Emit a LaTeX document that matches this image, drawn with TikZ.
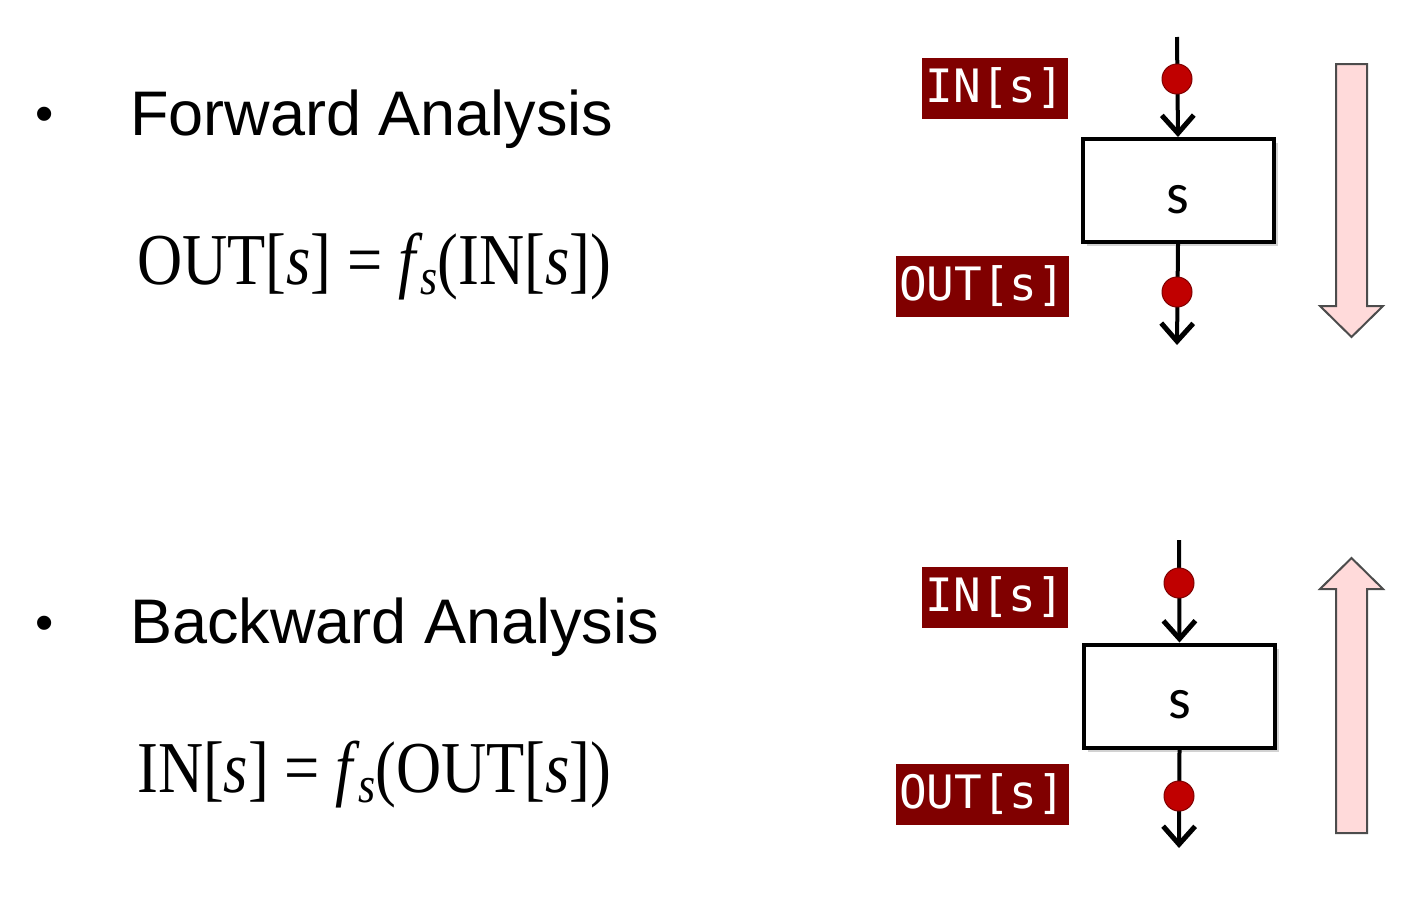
\documentclass[tikz,border=0pt]{standalone}
\usepackage{graphicx}
\usepackage{fontspec}
\setmainfont{Liberation Serif}
\newfontfamily\slidefont{Liberation Sans}
\newfontfamily\tagfont{DejaVu Sans Mono}
\newfontfamily\stmtfont{Carlito}
\usetikzlibrary{arrows.meta}
\usetikzlibrary{shadows}
\definecolor{tagred}{HTML}{800000}
\definecolor{dotred}{HTML}{C00000}
\definecolor{pinkfill}{HTML}{FFDADA}
\newcommand{\eqn}[1]{\scalebox{1}[1.17]{\fontsize{62.5}{70}\selectfont #1}}
\newcommand{\vs}{\textit{s}}
\newcommand{\fs}{\textit{f}\kern-2pt\raisebox{-9pt}{\fontsize{44}{44}\selectfont\textit{s}}}

\begin{document}
\begin{tikzpicture}[x=1pt,y=-1pt,
    heading/.style={font=\slidefont\fontsize{63}{70}\selectfont, anchor=base west, inner sep=0},
    bullet/.style={font=\slidefont\fontsize{52}{60}\selectfont, anchor=base, inner sep=0},
    formula/.style={anchor=base west, inner sep=0},
    tag/.style={fill=tagred, text=white, font=\tagfont\fontsize{46}{50}\selectfont,
      inner xsep=3.5pt, inner ysep=0, minimum height=61pt, anchor=east},
    stmt/.style={draw, line width=4pt, fill=white, minimum width=191pt, minimum height=103pt,
      font=\stmtfont\fontsize{58}{60}\selectfont, text height=45pt, text depth=0pt,
      drop shadow={shadow xshift=4pt, shadow yshift=-4pt, fill=black!50, opacity=0.35}},
    dot/.style={circle, fill=dotred, draw=tagred, line width=1pt, minimum size=30pt, inner sep=0},
    flow/.style={line width=4pt, -{Straight Barb[length=18pt,width=32pt,line width=5pt]}},
    bigarrow/.style={fill=pinkfill, draw=black!70, line width=2pt, line join=miter}]
          \fill[white] (0,0) rectangle (1407,903);
          \useasboundingbox (0,0) rectangle (1407,903);

          % forward
          \node[bullet] (fbul) at (45,131) {\textbullet};
          \node[heading] (fwd) at (130,135) {Forward Analysis};
          \node[formula] (feq) at (137,284) {\eqn{OUT[\vs] = \fs(IN[\vs])}};

          \node[tag] (fin) at (1068,88) {IN[s]};
          \node[tag] (fout) at (1069,286) {OUT[s]};
          \node[stmt] (fs) at (1178,190.5) {s};
          \coordinate (ftop) at (1177,37);
          \coordinate (fbot) at (1177,345);
          \draw[flow] (ftop) -- (fs.north);
          \draw[flow] (fs.south) -- (fbot);
          \node[dot] (findot) at (1177,79) {};
          \node[dot] (foutdot) at (1177,292) {};
          \draw[bigarrow] (1336,64) -- (1367,64) -- (1367,306) -- (1383,306)
            -- (1351.5,337) -- (1320,306) -- (1336,306) -- cycle;

          % backward
          \node[bullet] (bbul) at (45,640) {\textbullet};
          \node[heading] (bwd) at (130,643) {Backward Analysis};
          \node[formula] (beq) at (137,792) {\eqn{IN[\vs] = \fs(OUT[\vs])}};

          \node[tag] (bin) at (1068,597.5) {IN[s]};
          \node[tag] (bout) at (1069,794.5) {OUT[s]};
          \node[stmt] (bs) at (1179.5,696) {s};
          \coordinate (btop) at (1179,540);
          \coordinate (bbot) at (1179,848);
          \draw[flow] (btop) -- (bs.north);
          \draw[flow] (bs.south) -- (bbot);
          \node[dot] (bindot) at (1179,583) {};
          \node[dot] (boutdot) at (1179,796) {};
          \draw[bigarrow] (1336,833) -- (1367,833) -- (1367,589) -- (1383,589)
            -- (1351.5,558) -- (1320,589) -- (1336,589) -- cycle;
        \end{tikzpicture}
\end{document}
